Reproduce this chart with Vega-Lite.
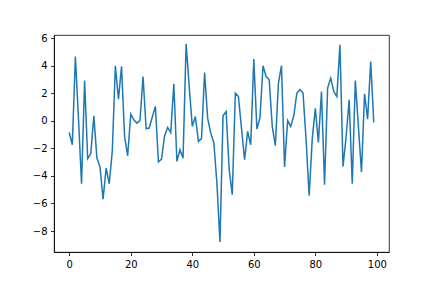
{
  "$schema": "https://vega.github.io/schema/vega-lite/v6.json",
  "width": 335,
  "height": 217,
  "autosize": {"type": "none"},
  "padding": {"left": 54, "top": 35, "right": 43, "bottom": 36},
  "background": "white",
  "config": {
    "view": {"stroke": "black", "strokeWidth": 0.8},
    "axis": {
      "grid": false,
      "domainColor": "black",
      "domainWidth": 0.8,
      "tickColor": "black",
      "tickWidth": 0.8,
      "tickSize": 3.5,
      "labelColor": "black",
      "labelFont": "DejaVu Sans",
      "labelFontSize": 10,
      "labelPadding": 3.5,
      "title": null
    }
  },
  "data": {"values": [
    {"i":0,"v":-0.85},{"i":1,"v":-1.74},{"i":2,"v":4.66},{"i":3,"v":0.2},{"i":4,"v":-4.57},
    {"i":5,"v":2.92},{"i":6,"v":-2.75},{"i":7,"v":-2.4},{"i":8,"v":0.36},{"i":9,"v":-2.7},
    {"i":10,"v":-3.36},{"i":11,"v":-5.68},{"i":12,"v":-3.43},{"i":13,"v":-4.57},{"i":14,"v":-2.2},
    {"i":15,"v":3.99},{"i":16,"v":1.57},{"i":17,"v":3.94},{"i":18,"v":-1.13},{"i":19,"v":-2.54},
    {"i":20,"v":0.48},{"i":21,"v":0.07},{"i":22,"v":-0.17},{"i":23,"v":0.02},{"i":24,"v":3.21},
    {"i":25,"v":-0.58},{"i":26,"v":-0.53},{"i":27,"v":0.27},{"i":28,"v":1.04},{"i":29,"v":-2.99},
    {"i":30,"v":-2.78},{"i":31,"v":-1.09},{"i":32,"v":-0.48},{"i":33,"v":-0.85},{"i":34,"v":2.68},
    {"i":35,"v":-2.95},{"i":36,"v":-2.1},{"i":37,"v":-2.71},{"i":38,"v":5.58},{"i":39,"v":2.5},
    {"i":40,"v":-0.41},{"i":41,"v":0.31},{"i":42,"v":-1.5},{"i":43,"v":-1.3},{"i":44,"v":3.5},
    {"i":45,"v":0.19},{"i":46,"v":-0.9},{"i":47,"v":-1.57},{"i":48,"v":-4.5},{"i":49,"v":-8.8},
    {"i":50,"v":0.36},{"i":51,"v":0.68},{"i":52,"v":-3.55},{"i":53,"v":-5.36},{"i":54,"v":2.0},
    {"i":55,"v":1.76},{"i":56,"v":-0.53},{"i":57,"v":-2.83},{"i":58,"v":-0.77},{"i":59,"v":-1.74},
    {"i":60,"v":4.47},{"i":61,"v":-0.6},{"i":62,"v":0.2},{"i":63,"v":3.99},{"i":64,"v":3.21},
    {"i":65,"v":2.97},{"i":66,"v":-0.41},{"i":67,"v":-1.81},{"i":68,"v":2.73},{"i":69,"v":3.99},
    {"i":70,"v":-3.36},{"i":71,"v":0.02},{"i":72,"v":-0.41},{"i":73,"v":0.36},{"i":74,"v":2.0},
    {"i":75,"v":2.25},{"i":76,"v":2.0},{"i":77,"v":-1.38},{"i":78,"v":-5.43},{"i":79,"v":-1.3},
    {"i":80,"v":0.9},{"i":81,"v":-1.57},{"i":82,"v":2.12},{"i":83,"v":-4.64},{"i":84,"v":2.37},
    {"i":85,"v":3.09},{"i":86,"v":2.12},{"i":87,"v":1.76},{"i":88,"v":5.51},{"i":89,"v":-3.31},
    {"i":90,"v":-1.2},{"i":91,"v":1.52},{"i":92,"v":-4.57},{"i":93,"v":2.92},{"i":94,"v":-0.41},
    {"i":95,"v":-3.74},{"i":96,"v":1.96},{"i":97,"v":0.12},{"i":98,"v":4.3},{"i":99,"v":-0.12}
  ]},
  "mark": {"type": "line", "color": "#1f77b4", "strokeWidth": 1.5, "clip": true},
  "encoding": {
    "x": {
      "field": "i", "type": "quantitative",
      "scale": {"domain": [-4.95, 103.95], "nice": false, "zero": false},
      "axis": {"values": [0, 20, 40, 60, 80, 100], "format": "d"}
    },
    "y": {
      "field": "v", "type": "quantitative",
      "scale": {"domain": [-9.52, 6.22], "nice": false, "zero": false},
      "axis": {"values": [-8, -6, -4, -2, 0, 2, 4, 6], "format": "d"}
    }
  }
}
